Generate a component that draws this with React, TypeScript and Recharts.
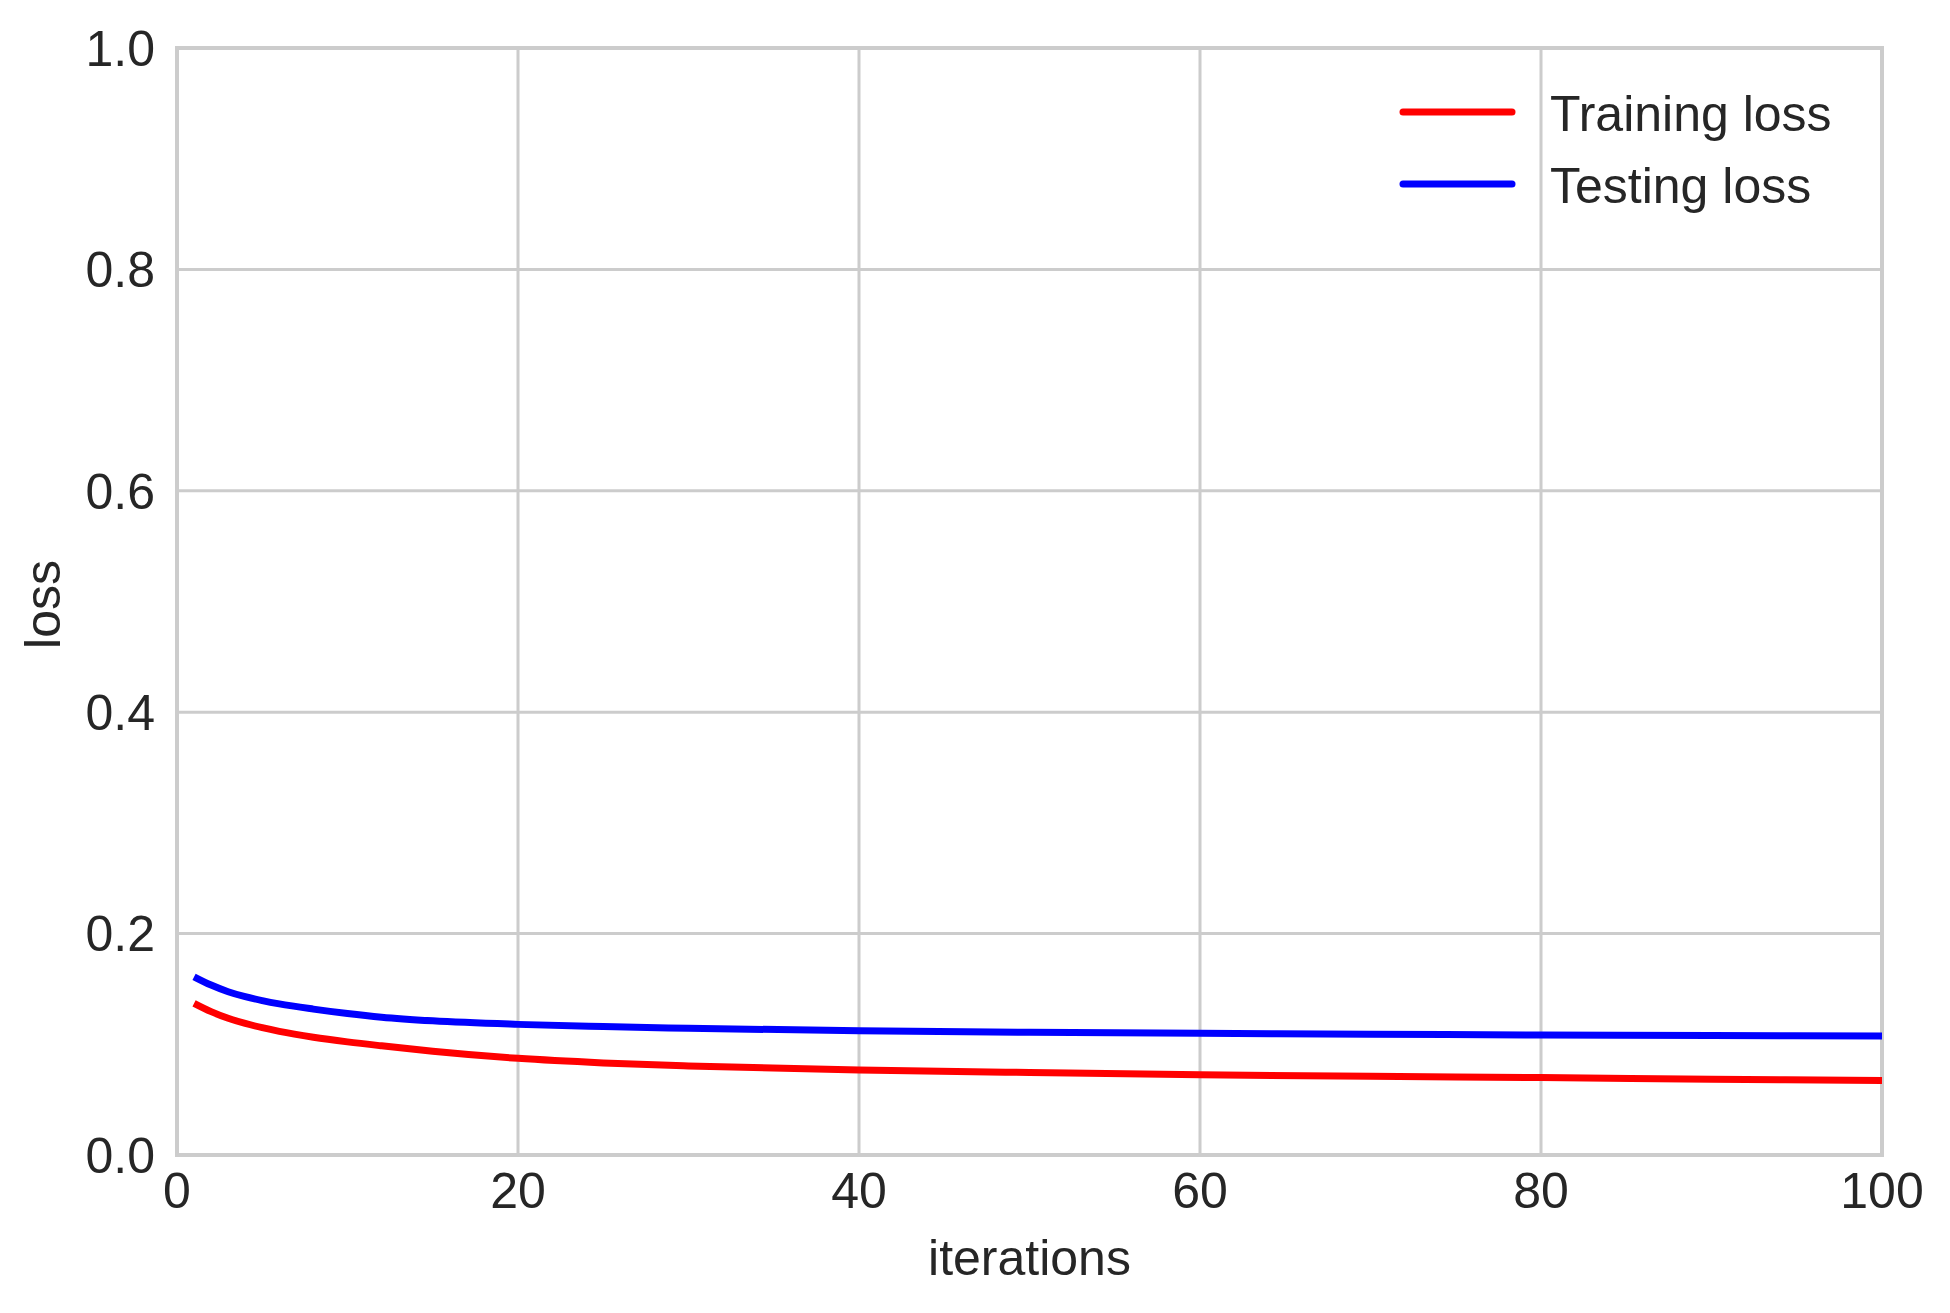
import React from 'react';
import {
  LineChart,
  Line,
  XAxis,
  YAxis,
  CartesianGrid,
  ReferenceArea,
  Legend,
} from 'recharts';

const iterations = [1, 2, 3, 4, 5, 6, 8, 10, 12, 15, 20, 25, 30, 40, 50, 60, 70, 80, 90, 100];
const trainingLoss = [0.137, 0.1295, 0.1235, 0.1188, 0.115, 0.1117, 0.1064, 0.1022, 0.0986, 0.0937, 0.0873, 0.0832, 0.0804, 0.0768, 0.0745, 0.0725, 0.0711, 0.0699, 0.0685, 0.0672];
const testingLoss = [0.161, 0.1535, 0.1475, 0.143, 0.1395, 0.1365, 0.1318, 0.1278, 0.1245, 0.1212, 0.118, 0.116, 0.1145, 0.1122, 0.1108, 0.1099, 0.1091, 0.1084, 0.1079, 0.1075];

const xTicks = [0, 20, 40, 60, 80, 100];
const yTicks = [0, 0.2, 0.4, 0.6, 0.8, 1.0];

const seriesKeys = ['train', 'test'];
const seriesNames: Record<string, string> = { train: 'Training loss', test: 'Testing loss' };
const seriesColors: Record<string, string> = { train: '#ff0000', test: '#0000ff' };
const xLabel = 'iterations';
const yLabel = 'loss';

const data = iterations.map((it, i) => ({
  it,
  train: trainingLoss[i],
  test: testingLoss[i],
}));

const FONT = '"Liberation Sans", Arial, sans-serif';
const TEXT = '#262626';
const GRID = '#cccccc';
const LINE_W = 7;

const LegendContent = () => (
  <svg width={500} height={160} style={{ display: 'block' }}>
    {seriesKeys.map((k, i) => (
      <g key={k}>
        <line
          x1={13}
          x2={122}
          y1={42 + i * 72}
          y2={42 + i * 72}
          stroke={seriesColors[k]}
          strokeWidth={LINE_W}
          strokeLinecap="round"
        />
        <text x={160} y={61 + i * 72} fontSize={50} fontFamily={FONT} fill={TEXT}>
          {seriesNames[k]}
        </text>
      </g>
    ))}
  </svg>
);

const XLabel = (props: any) => {
  const vb = props.viewBox || {};
  return (
    <text
      x={vb.x + vb.width / 2}
      y={1275}
      textAnchor="middle"
      fontSize={50}
      fontFamily={FONT}
      fill={TEXT}
    >
      {xLabel}
    </text>
  );
};

const YLabel = (props: any) => {
  const vb = props.viewBox || {};
  const cy = vb.y + vb.height / 2 + 3;
  return (
    <text
      x={60}
      y={cy}
      transform={`rotate(-90, 60, ${cy})`}
      textAnchor="middle"
      fontSize={50}
      fontFamily={FONT}
      fill={TEXT}
    >
      {yLabel}
    </text>
  );
};

export default function App() {
  return (
    <div style={{ position: 'absolute', left: 0, top: 0, width: 1950, height: 1313, background: '#fff' }}>
      <LineChart
        width={1950}
        height={1313}
        data={data}
        margin={{ top: 48, right: 68, bottom: 0, left: 0 }}
      >
        <CartesianGrid
          stroke={GRID}
          strokeWidth={3}
          horizontalValues={yTicks}
          verticalValues={xTicks}
        />
        <XAxis
          dataKey="it"
          type="number"
          domain={[0, 100]}
          ticks={xTicks}
          interval={0}
          height={158}
          tickLine={false}
          axisLine={false}
          tickMargin={11}
          tick={{ fontSize: 50, fontFamily: FONT, fill: TEXT }}
          label={<XLabel />}
        />
        <YAxis
          type="number"
          domain={[0, 1]}
          ticks={yTicks}
          interval={0}
          width={177}
          tickLine={false}
          axisLine={false}
          tickMargin={16}
          tickFormatter={(v: number) => v.toFixed(1)}
          tick={{ fontSize: 50, fontFamily: FONT, fill: TEXT }}
          label={<YLabel />}
        />
        <ReferenceArea
          x1={0}
          x2={100}
          y1={0}
          y2={1}
          fill="none"
          stroke={GRID}
          strokeWidth={4}
        />
        <Line
          type="monotone"
          dataKey="train"
          name={seriesNames.train}
          stroke={seriesColors.train}
          strokeWidth={LINE_W}
          dot={false}
          isAnimationActive={false}
        />
        <Line
          type="monotone"
          dataKey="test"
          name={seriesNames.test}
          stroke={seriesColors.test}
          strokeWidth={LINE_W}
          dot={false}
          isAnimationActive={false}
        />
        <Legend
          layout="vertical"
          align="center"
          verticalAlign="middle"
          content={<LegendContent />}
          wrapperStyle={{ position: 'absolute', left: 1390, top: 70, width: 500, height: 160 }}
        />
      </LineChart>
    </div>
  );
}
